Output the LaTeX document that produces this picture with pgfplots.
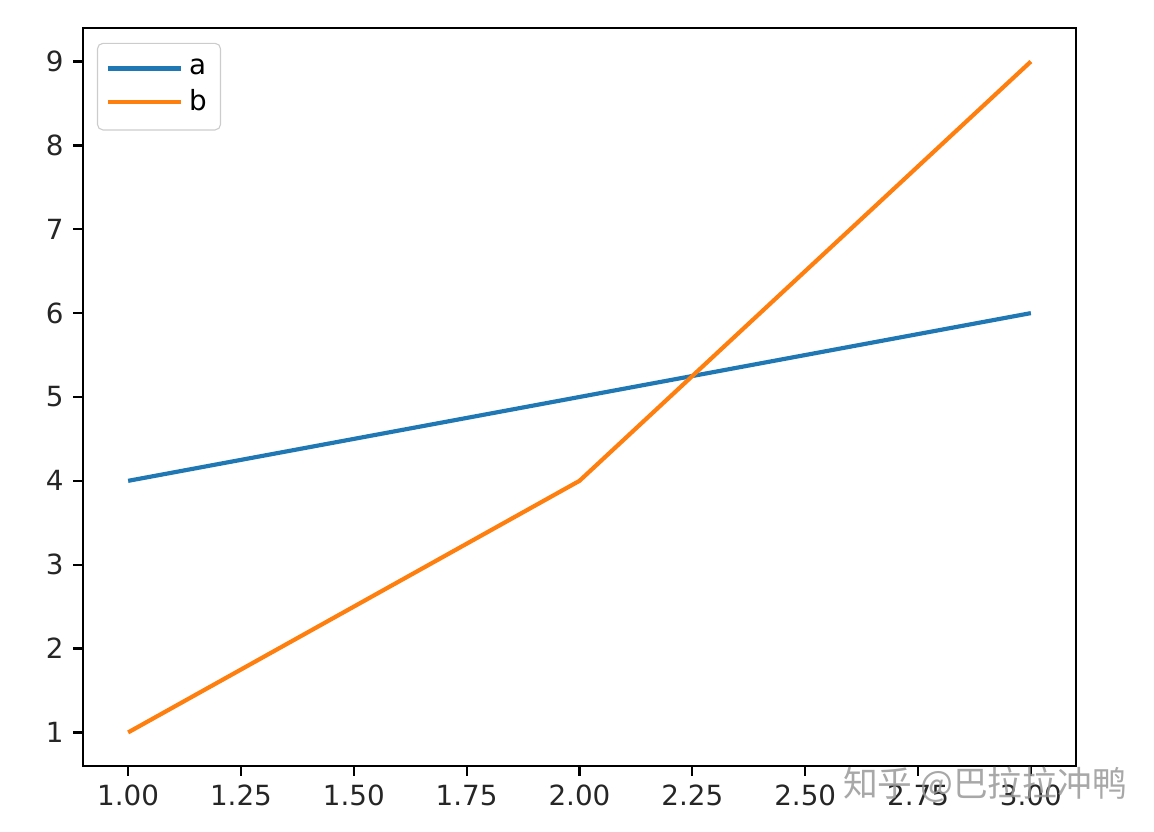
\documentclass[border=0pt]{standalone}
\usepackage{pgfplots}
\pgfplotsset{compat=1.18}
\usepackage{fontspec}
\setmainfont{DejaVu Sans}
\newfontfamily\cjk{Noto Sans CJK SC}
\definecolor{tabblue}{HTML}{1F77B4}
\definecolor{taborange}{HTML}{FF7F0E}
\begin{document}
\begin{tikzpicture}
\begin{axis}[
  name=ax,
  scale only axis,
  width=357.48pt, height=265.68pt,
  xmin=0.9, xmax=3.1, ymin=0.6, ymax=9.4,
  xtick={1,1.25,1.5,1.75,2,2.25,2.5,2.75,3},
  xticklabels={1.00,1.25,1.50,1.75,2.00,2.25,2.50,2.75,3.00},
  ytick={1,2,3,4,5,6,7,8,9},
  /pgf/number format/assume math mode=true,
  tick align=outside, tick pos=lower,
  major tick length=3.45pt,
  every tick/.style={black, line width=0.8pt},
  axis line style={line width=0.8pt},
  tick label style={font=\fontsize{10}{12}\selectfont, text=black!85},
  legend style={at={(0.014,0.98)}, anchor=north west, draw=black!20, rounded corners=2pt, fill=white, fill opacity=0.8, text opacity=1, font=\fontsize{10}{12}\selectfont, row sep=0pt, inner xsep=3pt, inner ysep=3.5pt},
  legend cell align=left,
  legend image code/.code={\draw[#1] (0.05cm,0cm) -- (0.8cm,0cm); \path (0cm,0cm) -- (0.93cm,0cm);},
]
\addplot[tabblue, line width=1.5pt] coordinates {(1,4) (2,5) (3,6)};
\addlegendentry{a}
\addplot[taborange, line width=1.5pt] coordinates {(1,1) (2,4) (3,9)};
\addlegendentry{b}
\end{axis}
\node[font=\cjk\fontsize{12.5}{14}\selectfont, text=black!40, opacity=0.85, anchor=center] at ([shift={(324.7pt,-6.8pt)}]ax.south west) {知乎 @巴拉拉冲鸭};
\pgfresetboundingbox
\path ([shift={(-29.88pt,-23.76pt)}]ax.south west) rectangle ([shift={(28.08pt,10.08pt)}]ax.north east);
\end{tikzpicture}
\end{document}
